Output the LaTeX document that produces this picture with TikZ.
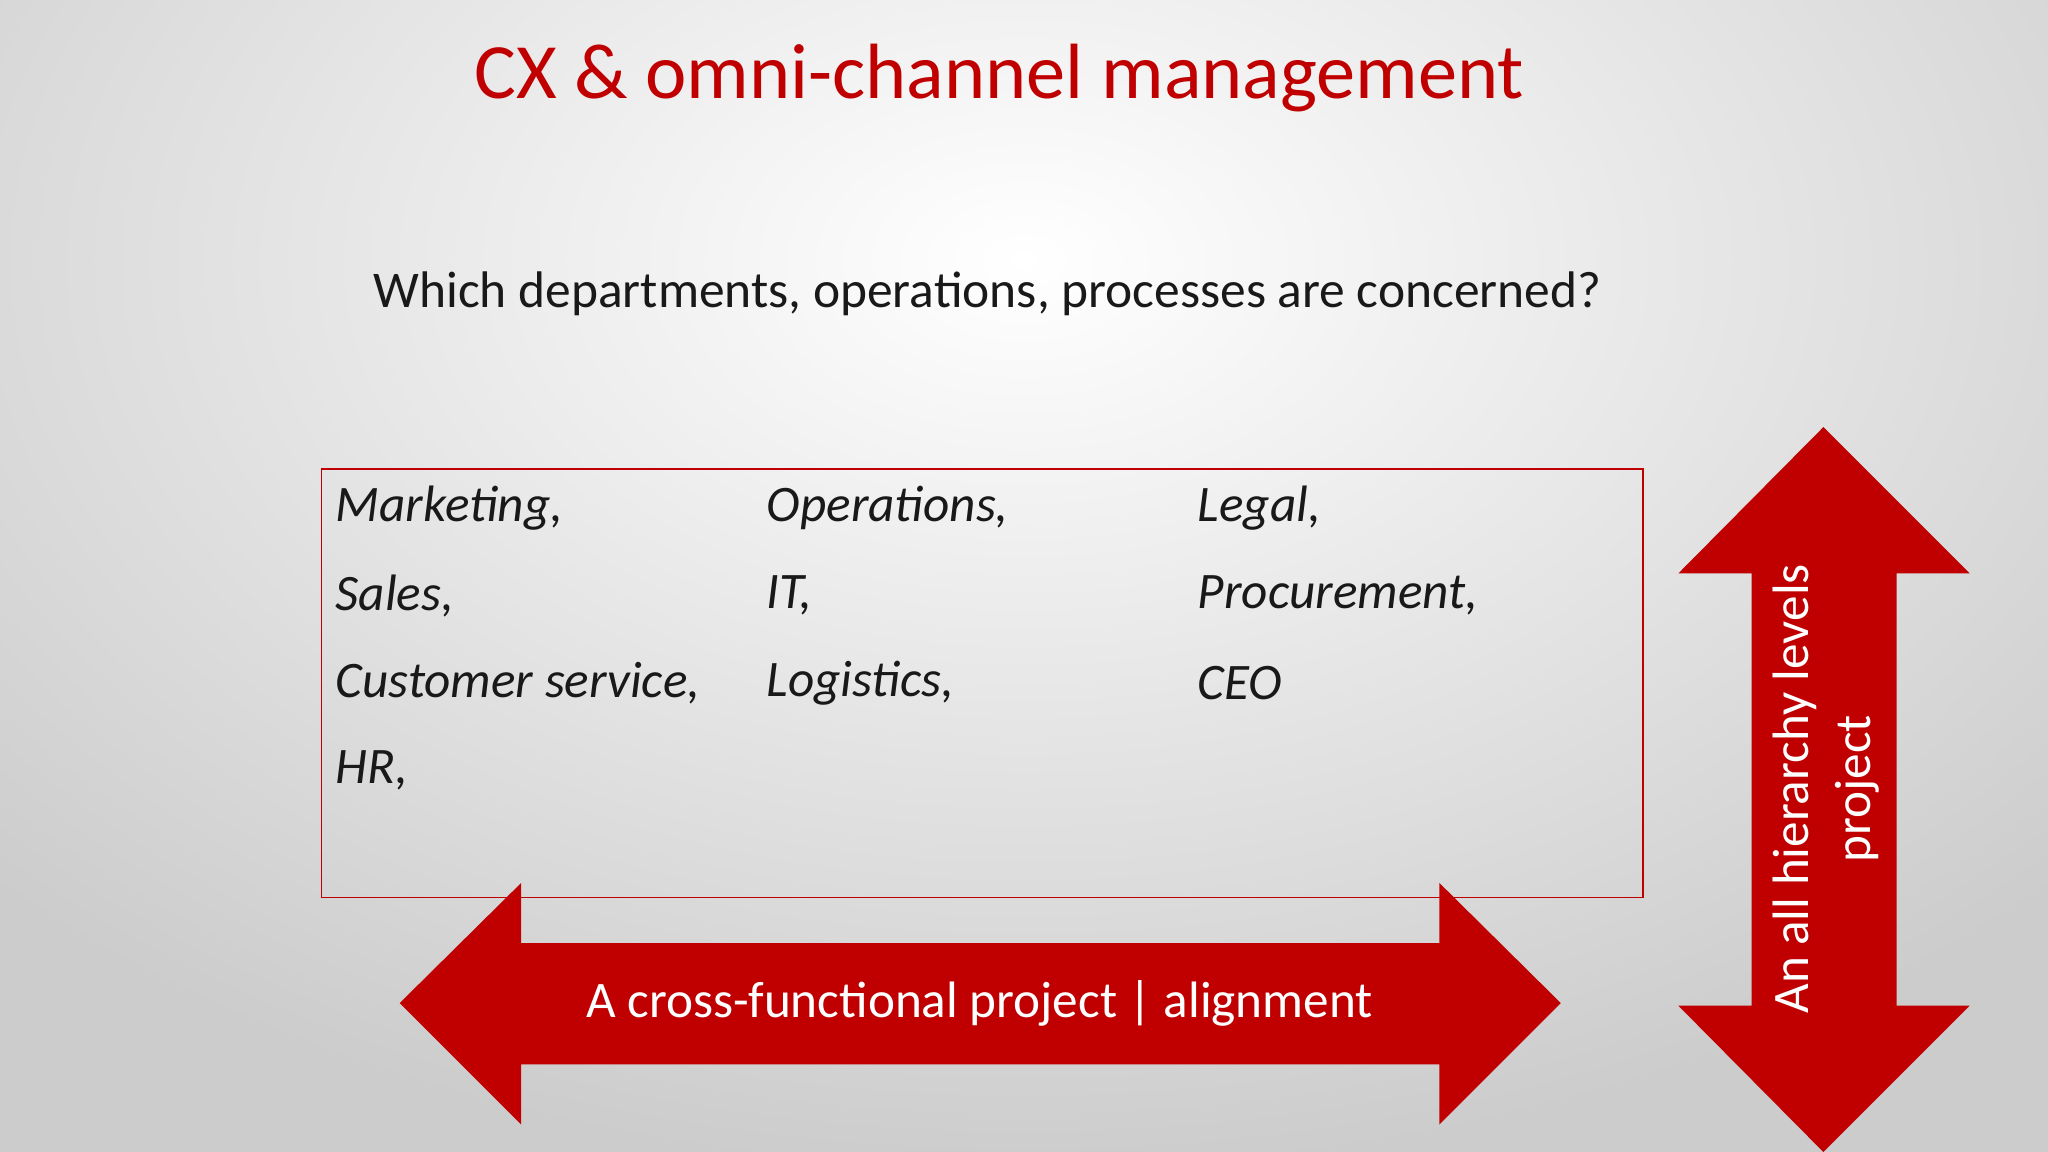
\documentclass[tikz,border=0pt]{standalone}
\usepackage{fontspec}
\setmainfont{Carlito}
\definecolor{cxred}{HTML}{C00000}
\begin{document}
\begin{tikzpicture}[x=0.5pt,y=-0.5pt,
  item/.style={anchor=west,font=\fontsize{19.6}{22}\selectfont\itshape,text=black!90},
  arrowfill/.style={fill=cxred,draw=none}]
\useasboundingbox (0,0) rectangle (1568,882);
\fill[black!20] (0,0) rectangle (1568,882);
\shade[inner color=white,outer color=black!20] (-300,-500) rectangle (1868,900);
\node (title) at (765,60) {\fontsize{30}{34}\selectfont\color{cxred}CX \& omni-channel management};
\node (q) at (756,225) {\fontsize{19.7}{22}\selectfont\color{black!90}Which departments, operations, processes are concerned?};
\node[draw=cxred,line width=0.5pt,minimum width=506pt,minimum height=164pt,inner sep=0pt] (box) at (752,523) {};
\node[item] (a1) at (250,389) {Marketing,};
\node[item] (a2) at (250,456) {Sales,};
\node[item] (a3) at (250,523) {Customer service,};
\node[item] (a4) at (250,590) {HR,};
\node[item] (b1) at (580,389) {Operations,};
\node[item] (b2) at (580,456) {IT,};
\node[item] (b3) at (580,523) {Logistics,};
\node[item] (c1) at (910,389) {Legal,};
\node[item] (c2) at (910,456) {Procurement,};
\node[item] (c3) at (910,523) {CEO};
\fill[arrowfill] (306,768) -- (399,676) -- (399,722) -- (1102,722) -- (1102,676) -- (1195,768) -- (1102,861) -- (1102,815) -- (399,815) -- (399,861) -- cycle;
\node[text=white] (h) at (750,768) {\fontsize{19.6}{22}\selectfont A cross-functional project | alignment};
\fill[arrowfill] (1396,327) -- (1508,439) -- (1452,439) -- (1452,770) -- (1508,770) -- (1396,882) -- (1285,770) -- (1341,770) -- (1341,439) -- (1285,439) -- cycle;
\node[text=white,rotate=90,align=center,font=\fontsize{19.6}{24}\selectfont] (v) at (1398,604) {An all hierarchy levels\\project};
\end{tikzpicture}
\end{document}
